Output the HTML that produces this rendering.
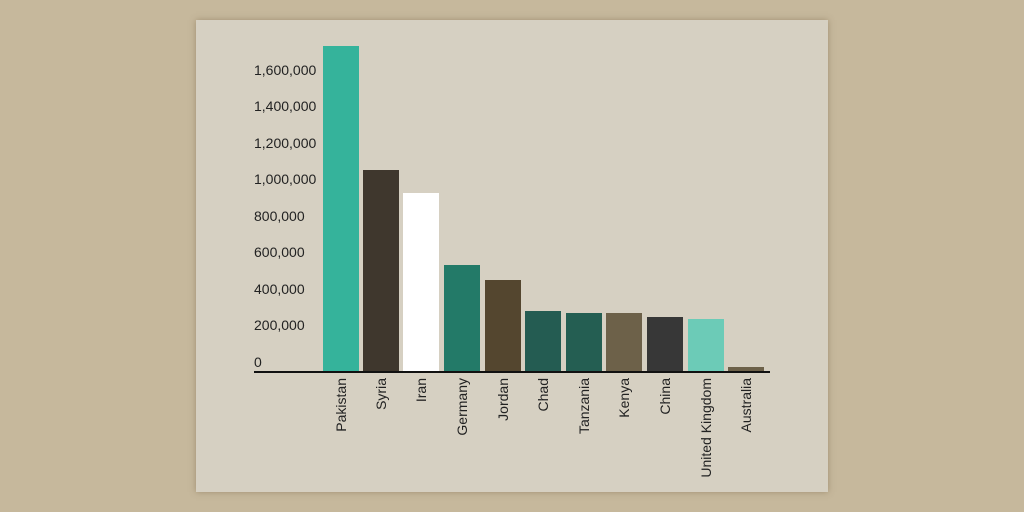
<!DOCTYPE html>
<html><head><style>
body{margin:0;width:1024px;height:512px;overflow:hidden;background:#c6b89c;font-family:"Liberation Sans",sans-serif;position:relative}
.panel{position:absolute;left:196px;top:20px;width:632px;height:472px;background:#d6d0c2;box-shadow:0 0 6px rgba(120,100,70,.5)}
.yl{position:absolute;left:254px;font-size:14px;color:#222;line-height:14px}
.bar{position:absolute;width:36px}
.xl{position:absolute;top:378px;font-size:14px;color:#222;writing-mode:vertical-rl;transform:rotate(180deg);line-height:14px}
.axis{position:absolute;left:254px;top:371px;width:516px;height:2px;background:#111}
</style></head><body>
<div class="panel"></div>
<div class="yl" style="top:63px">1,600,000</div>
<div class="yl" style="top:99px">1,400,000</div>
<div class="yl" style="top:136px">1,200,000</div>
<div class="yl" style="top:172px">1,000,000</div>
<div class="yl" style="top:209px">800,000</div>
<div class="yl" style="top:245px">600,000</div>
<div class="yl" style="top:282px">400,000</div>
<div class="yl" style="top:318px">200,000</div>
<div class="yl" style="top:355px">0</div>
<div class="bar" style="left:323px;top:46px;height:325px;background:#35b39b"></div>
<div class="bar" style="left:363px;top:170px;height:201px;background:#3f372d"></div>
<div class="bar" style="left:403px;top:193px;height:178px;background:#fff"></div>
<div class="bar" style="left:444px;top:265px;height:106px;background:#237a68"></div>
<div class="bar" style="left:485px;top:280px;height:91px;background:#54462f"></div>
<div class="bar" style="left:525px;top:311px;height:60px;background:#245c52"></div>
<div class="bar" style="left:566px;top:313px;height:58px;background:#245e52"></div>
<div class="bar" style="left:606px;top:313px;height:58px;background:#6d6149"></div>
<div class="bar" style="left:647px;top:317px;height:54px;background:#373737"></div>
<div class="bar" style="left:688px;top:319px;height:52px;background:#6ccbb7"></div>
<div class="bar" style="left:728px;top:367px;height:4px;background:#6d6149"></div>
<div class="axis"></div>
<div class="xl" style="left:334px">Pakistan</div>
<div class="xl" style="left:374px">Syria</div>
<div class="xl" style="left:414px">Iran</div>
<div class="xl" style="left:455px">Germany</div>
<div class="xl" style="left:496px">Jordan</div>
<div class="xl" style="left:536px">Chad</div>
<div class="xl" style="left:577px">Tanzania</div>
<div class="xl" style="left:617px">Kenya</div>
<div class="xl" style="left:658px">China</div>
<div class="xl" style="left:699px">United Kingdom</div>
<div class="xl" style="left:739px">Australia</div>
</body></html>
